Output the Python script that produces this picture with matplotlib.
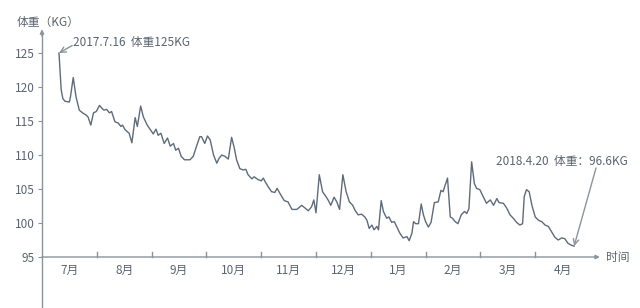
import matplotlib
matplotlib.use('Agg')
import matplotlib.pyplot as plt

plt.rcParams['font.family'] = ['Noto Sans CJK SC', 'DejaVu Sans']

# 横轴位置（以月为单位，0 = 7月初）
pos = [0.31, 0.35, 0.38, 0.42, 0.50, 0.52, 0.57, 0.62, 0.68, 0.74, 0.80, 0.84, 0.89, 0.94, 0.99,
       1.05, 1.09, 1.13, 1.18, 1.23, 1.27, 1.33, 1.39, 1.44, 1.47, 1.51, 1.56, 1.59, 1.64, 1.70,
       1.74, 1.80, 1.85, 1.92, 1.98, 2.03, 2.08, 2.12, 2.17, 2.23, 2.29, 2.34, 2.40, 2.44, 2.49,
       2.54, 2.60, 2.70, 2.76, 2.82, 2.88, 2.91, 2.97, 3.02, 3.07, 3.13, 3.19, 3.23, 3.28, 3.34,
       3.40, 3.46, 3.51, 3.55, 3.61, 3.67, 3.72, 3.76, 3.83, 3.87, 3.94, 4.00, 4.04, 4.07, 4.13,
       4.19, 4.25, 4.29, 4.36, 4.42, 4.49, 4.56, 4.65, 4.74, 4.80, 4.86, 4.92, 4.96, 5.00, 5.06,
       5.12, 5.18, 5.22, 5.27, 5.33, 5.38, 5.43, 5.49, 5.55, 5.61, 5.67, 5.71, 5.77, 5.83, 5.89,
       5.93, 5.97, 6.02, 6.06, 6.11, 6.14, 6.19, 6.23, 6.29, 6.33, 6.38, 6.43, 6.47, 6.53, 6.59,
       6.66, 6.70, 6.75, 6.78, 6.82, 6.87, 6.92, 6.96, 7.00, 7.05, 7.10, 7.16, 7.23, 7.28, 7.32,
       7.35, 7.40, 7.45, 7.49, 7.54, 7.59, 7.65, 7.71, 7.75, 7.79, 7.84, 7.89, 7.93, 7.99, 8.05,
       8.11, 8.18, 8.24, 8.30, 8.34, 8.42, 8.48, 8.54, 8.60, 8.66, 8.72, 8.77, 8.80, 8.84, 8.89,
       8.94, 9.00, 9.06, 9.12, 9.18, 9.24, 9.30, 9.36, 9.42, 9.48, 9.54, 9.60, 9.67, 9.71]

# 体重 (KG)
weight = [125.0, 119.6, 118.3, 117.9, 117.8, 118.6, 121.4, 118.6, 116.6, 116.2, 115.9, 115.6, 114.4, 116.2, 116.4,
          117.3, 116.9, 116.6, 116.7, 116.2, 116.4, 114.9, 114.7, 114.2, 114.4, 113.8, 113.4, 113.2, 111.8, 115.5,
          114.2, 117.2, 115.6, 114.4, 113.7, 113.1, 113.8, 112.9, 113.2, 111.7, 112.5, 111.3, 111.7, 110.7, 111.0,
          109.8, 109.3, 109.3, 109.8, 111.3, 112.7, 112.7, 111.7, 112.8, 112.2, 110.0, 108.8, 109.5, 110.0, 109.8,
          109.4, 112.6, 111.0, 109.3, 108.0, 107.8, 107.9, 107.1, 106.5, 106.8, 106.4, 106.2, 106.6, 106.1, 105.3,
          104.6, 104.5, 105.1, 104.1, 103.3, 103.1, 102.0, 102.0, 102.6, 102.2, 101.8, 102.4, 103.4, 101.5, 107.1,
          104.6, 103.9, 103.4, 102.6, 103.8, 103.1, 102.0, 107.1, 104.6, 103.1, 102.6, 101.9, 101.2, 101.3, 100.9,
          100.4, 99.2, 99.7, 99.0, 99.5, 99.0, 103.3, 101.7, 100.7, 100.9, 100.1, 100.2, 99.5, 98.5, 97.8,
          98.0, 97.4, 98.5, 100.2, 99.9, 99.9, 102.8, 101.2, 100.2, 99.4, 100.1, 103.0, 103.1, 104.8, 104.6,
          105.4, 106.6, 100.9, 100.7, 100.2, 99.9, 101.2, 101.7, 101.4, 102.1, 109.0, 105.8, 105.1, 104.9, 103.9,
          102.9, 103.4, 102.6, 103.6, 103.0, 102.9, 102.2, 101.2, 100.7, 100.1, 99.7, 99.9, 103.9, 104.9, 104.6,
          102.6, 100.9, 100.4, 100.2, 99.7, 99.5, 98.7, 97.9, 97.5, 97.8, 97.7, 97.0, 96.7, 96.6]

months = ['7月', '8月', '9月', '10月', '11月', '12月', '1月', '2月', '3月', '4月']
yticks = [95, 100, 105, 110, 115, 120, 125]

line_c = '#5d6b7a'
axis_c = '#8c939c'
text_c = '#5a6470'

fig = plt.figure(figsize=(6.4, 3.08), dpi=100)
ax = fig.add_axes([42 / 640, 0, 598 / 640, 1])
ax.set_xlim(0, 598 / 54.8)
ax.set_ylim(87.5, 132.8)

for s in ['top', 'right', 'bottom']:
    ax.spines[s].set_visible(False)
ax.spines['left'].set_color(axis_c)
ax.spines['left'].set_linewidth(1)
ax.spines['left'].set_bounds(87.5, 128.0)

ax.plot(pos, weight, color=line_c, linewidth=1)

# y 轴刻度
ax.set_yticks(yticks)
ax.tick_params(axis='y', length=3, color=axis_c, labelcolor=text_c, labelsize=8.5, pad=2)
ax.set_xticks([])

# x 轴带箭头
ax.annotate('', xy=(10.18, 95), xytext=(0, 95),
            arrowprops=dict(arrowstyle='-|>', color=axis_c, lw=1, mutation_scale=6, shrinkA=0, shrinkB=0))
ax.text(10.3, 95, '时间', color=text_c, fontsize=8.5, va='center', ha='left')
for k in range(1, 10):
    ax.plot([k, k], [95, 95.7], color=axis_c, linewidth=1)
for k, m in enumerate(months):
    ax.text(k + 0.5, 93.0, m, color=text_c, fontsize=8.5, ha='center', va='center')

# y 轴箭头
ax.annotate('', xy=(0, 128.5), xytext=(0, 127.5),
            arrowprops=dict(arrowstyle='-|>', color=axis_c, lw=1, mutation_scale=6, shrinkA=0, shrinkB=0),
            annotation_clip=False)
fig.text(17 / 640, 1 - 22 / 308, '体重（KG）', color=text_c, fontsize=8.5, ha='left', va='center')

# 标注
ax.text(0.57, 126.5, '2017.7.16  体重125KG', color=text_c, fontsize=8.5, ha='left', va='center')
ax.annotate('', xy=(pos[0], weight[0]), xytext=(0.55, 126.1),
            arrowprops=dict(arrowstyle='->', color=axis_c, lw=1, shrinkA=0, shrinkB=0))
ax.text(9.49, 109.1, '2018.4.20  体重：96.6KG', color=text_c, fontsize=8.5, ha='center', va='center')
ax.annotate('', xy=(pos[-1], weight[-1]), xytext=(10.11, 108.1),
            arrowprops=dict(arrowstyle='->', color=axis_c, lw=1, shrinkA=0, shrinkB=0))

fig.savefig('out.png', dpi=100, facecolor='white')
